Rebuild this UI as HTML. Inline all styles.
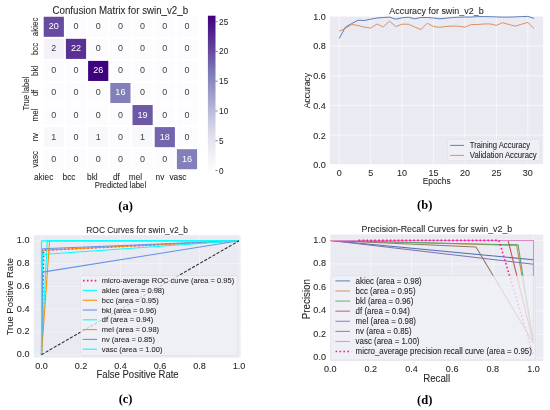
<!DOCTYPE html>
<html><head><meta charset="utf-8"><style>
html,body{margin:0;padding:0;background:#fff;width:550px;height:410px;overflow:hidden}
svg{display:block;will-change:transform}
text{font-family:"Liberation Sans", sans-serif;fill:#262626}
</style></head><body>
<svg width="550" height="410" viewBox="0 0 550 410">
<rect width="550" height="410" fill="#fff"/>
<rect x="43.70" y="16.75" width="20.20" height="20.07" fill="#674ba0"/>
<text x="53.80" y="29.25" font-size="9.33" text-anchor="middle" textLength="10.10" lengthAdjust="spacingAndGlyphs" style="fill:#ffffff">20</text>
<rect x="65.90" y="16.75" width="20.20" height="20.07" fill="#fcfbfd"/>
<text x="76.00" y="29.25" font-size="9.33" text-anchor="middle" textLength="5.00" lengthAdjust="spacingAndGlyphs" style="fill:#424242">0</text>
<rect x="88.10" y="16.75" width="20.20" height="20.07" fill="#fcfbfd"/>
<text x="98.20" y="29.25" font-size="9.33" text-anchor="middle" textLength="5.00" lengthAdjust="spacingAndGlyphs" style="fill:#424242">0</text>
<rect x="110.30" y="16.75" width="20.20" height="20.07" fill="#fcfbfd"/>
<text x="120.40" y="29.25" font-size="9.33" text-anchor="middle" textLength="5.00" lengthAdjust="spacingAndGlyphs" style="fill:#424242">0</text>
<rect x="132.50" y="16.75" width="20.20" height="20.07" fill="#fcfbfd"/>
<text x="142.60" y="29.25" font-size="9.33" text-anchor="middle" textLength="5.00" lengthAdjust="spacingAndGlyphs" style="fill:#424242">0</text>
<rect x="154.70" y="16.75" width="20.20" height="20.07" fill="#fcfbfd"/>
<text x="164.80" y="29.25" font-size="9.33" text-anchor="middle" textLength="5.00" lengthAdjust="spacingAndGlyphs" style="fill:#424242">0</text>
<rect x="176.90" y="16.75" width="20.20" height="20.07" fill="#fcfbfd"/>
<text x="187.00" y="29.25" font-size="9.33" text-anchor="middle" textLength="5.00" lengthAdjust="spacingAndGlyphs" style="fill:#424242">0</text>
<rect x="43.70" y="38.82" width="20.20" height="20.07" fill="#f4f2f8"/>
<text x="53.80" y="51.32" font-size="9.33" text-anchor="middle" textLength="5.00" lengthAdjust="spacingAndGlyphs" style="fill:#424242">2</text>
<rect x="65.90" y="38.82" width="20.20" height="20.07" fill="#593194"/>
<text x="76.00" y="51.32" font-size="9.33" text-anchor="middle" textLength="10.10" lengthAdjust="spacingAndGlyphs" style="fill:#ffffff">22</text>
<rect x="88.10" y="38.82" width="20.20" height="20.07" fill="#fcfbfd"/>
<text x="98.20" y="51.32" font-size="9.33" text-anchor="middle" textLength="5.00" lengthAdjust="spacingAndGlyphs" style="fill:#424242">0</text>
<rect x="110.30" y="38.82" width="20.20" height="20.07" fill="#fcfbfd"/>
<text x="120.40" y="51.32" font-size="9.33" text-anchor="middle" textLength="5.00" lengthAdjust="spacingAndGlyphs" style="fill:#424242">0</text>
<rect x="132.50" y="38.82" width="20.20" height="20.07" fill="#fcfbfd"/>
<text x="142.60" y="51.32" font-size="9.33" text-anchor="middle" textLength="5.00" lengthAdjust="spacingAndGlyphs" style="fill:#424242">0</text>
<rect x="154.70" y="38.82" width="20.20" height="20.07" fill="#fcfbfd"/>
<text x="164.80" y="51.32" font-size="9.33" text-anchor="middle" textLength="5.00" lengthAdjust="spacingAndGlyphs" style="fill:#424242">0</text>
<rect x="176.90" y="38.82" width="20.20" height="20.07" fill="#fcfbfd"/>
<text x="187.00" y="51.32" font-size="9.33" text-anchor="middle" textLength="5.00" lengthAdjust="spacingAndGlyphs" style="fill:#424242">0</text>
<rect x="43.70" y="60.89" width="20.20" height="20.07" fill="#fcfbfd"/>
<text x="53.80" y="73.39" font-size="9.33" text-anchor="middle" textLength="5.00" lengthAdjust="spacingAndGlyphs" style="fill:#424242">0</text>
<rect x="65.90" y="60.89" width="20.20" height="20.07" fill="#fcfbfd"/>
<text x="76.00" y="73.39" font-size="9.33" text-anchor="middle" textLength="5.00" lengthAdjust="spacingAndGlyphs" style="fill:#424242">0</text>
<rect x="88.10" y="60.89" width="20.20" height="20.07" fill="#3f007d"/>
<text x="98.20" y="73.39" font-size="9.33" text-anchor="middle" textLength="10.10" lengthAdjust="spacingAndGlyphs" style="fill:#ffffff">26</text>
<rect x="110.30" y="60.89" width="20.20" height="20.07" fill="#fcfbfd"/>
<text x="120.40" y="73.39" font-size="9.33" text-anchor="middle" textLength="5.00" lengthAdjust="spacingAndGlyphs" style="fill:#424242">0</text>
<rect x="132.50" y="60.89" width="20.20" height="20.07" fill="#fcfbfd"/>
<text x="142.60" y="73.39" font-size="9.33" text-anchor="middle" textLength="5.00" lengthAdjust="spacingAndGlyphs" style="fill:#424242">0</text>
<rect x="154.70" y="60.89" width="20.20" height="20.07" fill="#fcfbfd"/>
<text x="164.80" y="73.39" font-size="9.33" text-anchor="middle" textLength="5.00" lengthAdjust="spacingAndGlyphs" style="fill:#424242">0</text>
<rect x="176.90" y="60.89" width="20.20" height="20.07" fill="#fcfbfd"/>
<text x="187.00" y="73.39" font-size="9.33" text-anchor="middle" textLength="5.00" lengthAdjust="spacingAndGlyphs" style="fill:#424242">0</text>
<rect x="43.70" y="82.96" width="20.20" height="20.07" fill="#fcfbfd"/>
<text x="53.80" y="95.46" font-size="9.33" text-anchor="middle" textLength="5.00" lengthAdjust="spacingAndGlyphs" style="fill:#424242">0</text>
<rect x="65.90" y="82.96" width="20.20" height="20.07" fill="#fcfbfd"/>
<text x="76.00" y="95.46" font-size="9.33" text-anchor="middle" textLength="5.00" lengthAdjust="spacingAndGlyphs" style="fill:#424242">0</text>
<rect x="88.10" y="82.96" width="20.20" height="20.07" fill="#fcfbfd"/>
<text x="98.20" y="95.46" font-size="9.33" text-anchor="middle" textLength="5.00" lengthAdjust="spacingAndGlyphs" style="fill:#424242">0</text>
<rect x="110.30" y="82.96" width="20.20" height="20.07" fill="#827fbb"/>
<text x="120.40" y="95.46" font-size="9.33" text-anchor="middle" textLength="10.10" lengthAdjust="spacingAndGlyphs" style="fill:#ffffff">16</text>
<rect x="132.50" y="82.96" width="20.20" height="20.07" fill="#fcfbfd"/>
<text x="142.60" y="95.46" font-size="9.33" text-anchor="middle" textLength="5.00" lengthAdjust="spacingAndGlyphs" style="fill:#424242">0</text>
<rect x="154.70" y="82.96" width="20.20" height="20.07" fill="#fcfbfd"/>
<text x="164.80" y="95.46" font-size="9.33" text-anchor="middle" textLength="5.00" lengthAdjust="spacingAndGlyphs" style="fill:#424242">0</text>
<rect x="176.90" y="82.96" width="20.20" height="20.07" fill="#fcfbfd"/>
<text x="187.00" y="95.46" font-size="9.33" text-anchor="middle" textLength="5.00" lengthAdjust="spacingAndGlyphs" style="fill:#424242">0</text>
<rect x="43.70" y="105.03" width="20.20" height="20.07" fill="#fcfbfd"/>
<text x="53.80" y="117.53" font-size="9.33" text-anchor="middle" textLength="5.00" lengthAdjust="spacingAndGlyphs" style="fill:#424242">0</text>
<rect x="65.90" y="105.03" width="20.20" height="20.07" fill="#fcfbfd"/>
<text x="76.00" y="117.53" font-size="9.33" text-anchor="middle" textLength="5.00" lengthAdjust="spacingAndGlyphs" style="fill:#424242">0</text>
<rect x="88.10" y="105.03" width="20.20" height="20.07" fill="#fcfbfd"/>
<text x="98.20" y="117.53" font-size="9.33" text-anchor="middle" textLength="5.00" lengthAdjust="spacingAndGlyphs" style="fill:#424242">0</text>
<rect x="110.30" y="105.03" width="20.20" height="20.07" fill="#fcfbfd"/>
<text x="120.40" y="117.53" font-size="9.33" text-anchor="middle" textLength="5.00" lengthAdjust="spacingAndGlyphs" style="fill:#424242">0</text>
<rect x="132.50" y="105.03" width="20.20" height="20.07" fill="#6d58a7"/>
<text x="142.60" y="117.53" font-size="9.33" text-anchor="middle" textLength="10.10" lengthAdjust="spacingAndGlyphs" style="fill:#ffffff">19</text>
<rect x="154.70" y="105.03" width="20.20" height="20.07" fill="#fcfbfd"/>
<text x="164.80" y="117.53" font-size="9.33" text-anchor="middle" textLength="5.00" lengthAdjust="spacingAndGlyphs" style="fill:#424242">0</text>
<rect x="176.90" y="105.03" width="20.20" height="20.07" fill="#fcfbfd"/>
<text x="187.00" y="117.53" font-size="9.33" text-anchor="middle" textLength="5.00" lengthAdjust="spacingAndGlyphs" style="fill:#424242">0</text>
<rect x="43.70" y="127.10" width="20.20" height="20.07" fill="#f8f7fb"/>
<text x="53.80" y="139.60" font-size="9.33" text-anchor="middle" textLength="5.00" lengthAdjust="spacingAndGlyphs" style="fill:#424242">1</text>
<rect x="65.90" y="127.10" width="20.20" height="20.07" fill="#fcfbfd"/>
<text x="76.00" y="139.60" font-size="9.33" text-anchor="middle" textLength="5.00" lengthAdjust="spacingAndGlyphs" style="fill:#424242">0</text>
<rect x="88.10" y="127.10" width="20.20" height="20.07" fill="#f8f7fb"/>
<text x="98.20" y="139.60" font-size="9.33" text-anchor="middle" textLength="5.00" lengthAdjust="spacingAndGlyphs" style="fill:#424242">1</text>
<rect x="110.30" y="127.10" width="20.20" height="20.07" fill="#fcfbfd"/>
<text x="120.40" y="139.60" font-size="9.33" text-anchor="middle" textLength="5.00" lengthAdjust="spacingAndGlyphs" style="fill:#424242">0</text>
<rect x="132.50" y="127.10" width="20.20" height="20.07" fill="#f8f7fb"/>
<text x="142.60" y="139.60" font-size="9.33" text-anchor="middle" textLength="5.00" lengthAdjust="spacingAndGlyphs" style="fill:#424242">1</text>
<rect x="154.70" y="127.10" width="20.20" height="20.07" fill="#7465ae"/>
<text x="164.80" y="139.60" font-size="9.33" text-anchor="middle" textLength="10.10" lengthAdjust="spacingAndGlyphs" style="fill:#ffffff">18</text>
<rect x="176.90" y="127.10" width="20.20" height="20.07" fill="#fcfbfd"/>
<text x="187.00" y="139.60" font-size="9.33" text-anchor="middle" textLength="5.00" lengthAdjust="spacingAndGlyphs" style="fill:#424242">0</text>
<rect x="43.70" y="149.17" width="20.20" height="20.07" fill="#fcfbfd"/>
<text x="53.80" y="161.67" font-size="9.33" text-anchor="middle" textLength="5.00" lengthAdjust="spacingAndGlyphs" style="fill:#424242">0</text>
<rect x="65.90" y="149.17" width="20.20" height="20.07" fill="#fcfbfd"/>
<text x="76.00" y="161.67" font-size="9.33" text-anchor="middle" textLength="5.00" lengthAdjust="spacingAndGlyphs" style="fill:#424242">0</text>
<rect x="88.10" y="149.17" width="20.20" height="20.07" fill="#fcfbfd"/>
<text x="98.20" y="161.67" font-size="9.33" text-anchor="middle" textLength="5.00" lengthAdjust="spacingAndGlyphs" style="fill:#424242">0</text>
<rect x="110.30" y="149.17" width="20.20" height="20.07" fill="#fcfbfd"/>
<text x="120.40" y="161.67" font-size="9.33" text-anchor="middle" textLength="5.00" lengthAdjust="spacingAndGlyphs" style="fill:#424242">0</text>
<rect x="132.50" y="149.17" width="20.20" height="20.07" fill="#fcfbfd"/>
<text x="142.60" y="161.67" font-size="9.33" text-anchor="middle" textLength="5.00" lengthAdjust="spacingAndGlyphs" style="fill:#424242">0</text>
<rect x="154.70" y="149.17" width="20.20" height="20.07" fill="#fcfbfd"/>
<text x="164.80" y="161.67" font-size="9.33" text-anchor="middle" textLength="5.00" lengthAdjust="spacingAndGlyphs" style="fill:#424242">0</text>
<rect x="176.90" y="149.17" width="20.20" height="20.07" fill="#827fbb"/>
<text x="187.00" y="161.67" font-size="9.33" text-anchor="middle" textLength="10.10" lengthAdjust="spacingAndGlyphs" style="fill:#ffffff">16</text>
<text x="53.30" y="179.80" font-size="8.80" text-anchor="end" textLength="19.38" lengthAdjust="spacingAndGlyphs" style="stroke:#262626;stroke-width:0.07px">akiec</text>
<text x="75.50" y="179.80" font-size="8.80" text-anchor="end" textLength="12.92" lengthAdjust="spacingAndGlyphs" style="stroke:#262626;stroke-width:0.07px">bcc</text>
<text x="97.70" y="179.80" font-size="8.80" text-anchor="end" textLength="10.61" lengthAdjust="spacingAndGlyphs" style="stroke:#262626;stroke-width:0.07px">bkl</text>
<text x="119.90" y="179.80" font-size="8.80" text-anchor="end" textLength="6.92" lengthAdjust="spacingAndGlyphs" style="stroke:#262626;stroke-width:0.07px">df</text>
<text x="142.10" y="179.80" font-size="8.80" text-anchor="end" textLength="13.37" lengthAdjust="spacingAndGlyphs" style="stroke:#262626;stroke-width:0.07px">mel</text>
<text x="164.30" y="179.80" font-size="8.80" text-anchor="end" textLength="8.77" lengthAdjust="spacingAndGlyphs" style="stroke:#262626;stroke-width:0.07px">nv</text>
<text x="186.50" y="179.80" font-size="8.80" text-anchor="end" textLength="17.07" lengthAdjust="spacingAndGlyphs" style="stroke:#262626;stroke-width:0.07px">vasc</text>
<text x="37.90" y="26.79" font-size="8.48" text-anchor="middle" textLength="18.68" lengthAdjust="spacingAndGlyphs" transform="rotate(-90 37.90 26.79)" style="stroke:#262626;stroke-width:0.07px">akiec</text>
<text x="37.90" y="48.86" font-size="8.48" text-anchor="middle" textLength="12.45" lengthAdjust="spacingAndGlyphs" transform="rotate(-90 37.90 48.86)" style="stroke:#262626;stroke-width:0.07px">bcc</text>
<text x="37.90" y="70.92" font-size="8.48" text-anchor="middle" textLength="10.23" lengthAdjust="spacingAndGlyphs" transform="rotate(-90 37.90 70.92)" style="stroke:#262626;stroke-width:0.07px">bkl</text>
<text x="37.90" y="93.00" font-size="8.48" text-anchor="middle" textLength="6.67" lengthAdjust="spacingAndGlyphs" transform="rotate(-90 37.90 93.00)" style="stroke:#262626;stroke-width:0.07px">df</text>
<text x="37.90" y="115.06" font-size="8.48" text-anchor="middle" textLength="12.89" lengthAdjust="spacingAndGlyphs" transform="rotate(-90 37.90 115.06)" style="stroke:#262626;stroke-width:0.07px">mel</text>
<text x="37.90" y="137.13" font-size="8.48" text-anchor="middle" textLength="8.45" lengthAdjust="spacingAndGlyphs" transform="rotate(-90 37.90 137.13)" style="stroke:#262626;stroke-width:0.07px">nv</text>
<text x="37.90" y="159.21" font-size="8.48" text-anchor="middle" textLength="16.45" lengthAdjust="spacingAndGlyphs" transform="rotate(-90 37.90 159.21)" style="stroke:#262626;stroke-width:0.07px">vasc</text>
<text x="120.50" y="188.00" font-size="8.27" text-anchor="middle" textLength="51.30" lengthAdjust="spacingAndGlyphs" style="stroke:#262626;stroke-width:0.07px">Predicted label</text>
<text x="28.60" y="93.60" font-size="8.16" text-anchor="middle" textLength="33.70" lengthAdjust="spacingAndGlyphs" transform="rotate(-90 28.60 93.60)" style="stroke:#262626;stroke-width:0.07px">True label</text>
<text x="120.30" y="14.20" font-size="10.28" text-anchor="middle" textLength="135.50" lengthAdjust="spacingAndGlyphs" style="stroke:#262626;stroke-width:0.07px">Confusion Matrix for swin_v2_b</text>
<defs><linearGradient id="cbar" x1="0" y1="1" x2="0" y2="0"><stop offset="0.000" stop-color="#fcfbfd"/><stop offset="0.125" stop-color="#efedf5"/><stop offset="0.250" stop-color="#dadaeb"/><stop offset="0.375" stop-color="#bcbddc"/><stop offset="0.500" stop-color="#9e9ac8"/><stop offset="0.625" stop-color="#807dba"/><stop offset="0.750" stop-color="#6a51a3"/><stop offset="0.875" stop-color="#54278f"/><stop offset="1.000" stop-color="#3f007d"/></linearGradient></defs>
<rect x="207.9" y="15.7" width="7.6" height="154.80" fill="url(#cbar)"/>
<line x1="215.5" y1="170.50" x2="217.6" y2="170.50" stroke="#262626" stroke-width="0.6"/>
<text x="219.10" y="173.50" font-size="8.69" textLength="4.56" lengthAdjust="spacingAndGlyphs" style="stroke:#262626;stroke-width:0.07px">0</text>
<line x1="215.5" y1="140.73" x2="217.6" y2="140.73" stroke="#262626" stroke-width="0.6"/>
<text x="219.10" y="143.73" font-size="8.69" textLength="4.56" lengthAdjust="spacingAndGlyphs" style="stroke:#262626;stroke-width:0.07px">5</text>
<line x1="215.5" y1="110.96" x2="217.6" y2="110.96" stroke="#262626" stroke-width="0.6"/>
<text x="219.10" y="113.96" font-size="8.69" textLength="9.12" lengthAdjust="spacingAndGlyphs" style="stroke:#262626;stroke-width:0.07px">10</text>
<line x1="215.5" y1="81.19" x2="217.6" y2="81.19" stroke="#262626" stroke-width="0.6"/>
<text x="219.10" y="84.19" font-size="8.69" textLength="9.12" lengthAdjust="spacingAndGlyphs" style="stroke:#262626;stroke-width:0.07px">15</text>
<line x1="215.5" y1="51.42" x2="217.6" y2="51.42" stroke="#262626" stroke-width="0.6"/>
<text x="219.10" y="54.42" font-size="8.69" textLength="9.12" lengthAdjust="spacingAndGlyphs" style="stroke:#262626;stroke-width:0.07px">20</text>
<line x1="215.5" y1="21.65" x2="217.6" y2="21.65" stroke="#262626" stroke-width="0.6"/>
<text x="219.10" y="24.65" font-size="8.69" textLength="9.12" lengthAdjust="spacingAndGlyphs" style="stroke:#262626;stroke-width:0.07px">25</text>
<rect x="330.0" y="16.1" width="213.20" height="148.20" fill="#eaeaf2"/>
<line x1="339.20" y1="16.1" x2="339.20" y2="164.3" stroke="#fff" stroke-width="0.8" stroke-opacity="0.75"/>
<line x1="370.63" y1="16.1" x2="370.63" y2="164.3" stroke="#fff" stroke-width="0.8" stroke-opacity="0.75"/>
<line x1="402.07" y1="16.1" x2="402.07" y2="164.3" stroke="#fff" stroke-width="0.8" stroke-opacity="0.75"/>
<line x1="433.50" y1="16.1" x2="433.50" y2="164.3" stroke="#fff" stroke-width="0.8" stroke-opacity="0.75"/>
<line x1="464.94" y1="16.1" x2="464.94" y2="164.3" stroke="#fff" stroke-width="0.8" stroke-opacity="0.75"/>
<line x1="496.38" y1="16.1" x2="496.38" y2="164.3" stroke="#fff" stroke-width="0.8" stroke-opacity="0.75"/>
<line x1="527.81" y1="16.1" x2="527.81" y2="164.3" stroke="#fff" stroke-width="0.8" stroke-opacity="0.75"/>
<line x1="330.0" y1="164.80" x2="543.2" y2="164.80" stroke="#fff" stroke-width="0.8" stroke-opacity="0.75"/>
<line x1="330.0" y1="135.12" x2="543.2" y2="135.12" stroke="#fff" stroke-width="0.8" stroke-opacity="0.75"/>
<line x1="330.0" y1="105.44" x2="543.2" y2="105.44" stroke="#fff" stroke-width="0.8" stroke-opacity="0.75"/>
<line x1="330.0" y1="75.76" x2="543.2" y2="75.76" stroke="#fff" stroke-width="0.8" stroke-opacity="0.75"/>
<line x1="330.0" y1="46.08" x2="543.2" y2="46.08" stroke="#fff" stroke-width="0.8" stroke-opacity="0.75"/>
<line x1="330.0" y1="16.40" x2="543.2" y2="16.40" stroke="#fff" stroke-width="0.8" stroke-opacity="0.75"/>
<polyline points="339.20,38.50 345.49,27.00 351.77,23.50 358.06,20.20 364.35,20.50 370.63,19.20 376.92,18.00 383.21,17.50 389.50,17.10 395.78,19.20 402.07,17.80 408.36,17.20 414.64,18.80 420.93,17.50 427.22,17.50 433.50,18.00 439.79,18.80 446.08,18.20 452.37,17.50 458.65,17.20 464.94,17.00 471.23,17.00 477.51,16.60 483.80,16.60 490.09,16.70 496.38,16.90 502.66,17.10 508.95,17.10 515.24,16.90 521.52,16.60 527.81,16.40 534.10,18.30" fill="none" stroke="#4c72b0" stroke-width="0.9" stroke-linejoin="round"/>
<polyline points="339.20,31.00 345.49,28.50 351.77,24.50 358.06,25.50 364.35,27.20 370.63,28.00 376.92,24.00 383.21,27.00 389.50,21.10 395.78,26.50 402.07,24.20 408.36,24.20 414.64,27.00 420.93,29.50 427.22,23.20 433.50,26.50 439.79,27.30 446.08,26.50 452.37,26.00 458.65,26.20 464.94,27.20 471.23,24.50 477.51,24.50 483.80,24.00 490.09,23.90 496.38,25.30 502.66,22.70 508.95,24.50 515.24,26.20 521.52,24.20 527.81,22.40 534.10,28.60" fill="none" stroke="#dd8452" stroke-width="0.9" stroke-linejoin="round"/>
<text x="325.90" y="168.20" font-size="9.65" text-anchor="end" textLength="12.65" lengthAdjust="spacingAndGlyphs" style="stroke:#262626;stroke-width:0.07px">0.0</text>
<text x="325.90" y="138.52" font-size="9.65" text-anchor="end" textLength="12.65" lengthAdjust="spacingAndGlyphs" style="stroke:#262626;stroke-width:0.07px">0.2</text>
<text x="325.90" y="108.84" font-size="9.65" text-anchor="end" textLength="12.65" lengthAdjust="spacingAndGlyphs" style="stroke:#262626;stroke-width:0.07px">0.4</text>
<text x="325.90" y="79.16" font-size="9.65" text-anchor="end" textLength="12.65" lengthAdjust="spacingAndGlyphs" style="stroke:#262626;stroke-width:0.07px">0.6</text>
<text x="325.90" y="49.48" font-size="9.65" text-anchor="end" textLength="12.65" lengthAdjust="spacingAndGlyphs" style="stroke:#262626;stroke-width:0.07px">0.8</text>
<text x="325.90" y="19.80" font-size="9.65" text-anchor="end" textLength="12.65" lengthAdjust="spacingAndGlyphs" style="stroke:#262626;stroke-width:0.07px">1.0</text>
<text x="339.20" y="175.60" font-size="9.54" text-anchor="middle" textLength="5.01" lengthAdjust="spacingAndGlyphs" style="stroke:#262626;stroke-width:0.07px">0</text>
<text x="370.63" y="175.60" font-size="9.54" text-anchor="middle" textLength="5.01" lengthAdjust="spacingAndGlyphs" style="stroke:#262626;stroke-width:0.07px">5</text>
<text x="402.07" y="175.60" font-size="9.54" text-anchor="middle" textLength="10.01" lengthAdjust="spacingAndGlyphs" style="stroke:#262626;stroke-width:0.07px">10</text>
<text x="433.50" y="175.60" font-size="9.54" text-anchor="middle" textLength="10.01" lengthAdjust="spacingAndGlyphs" style="stroke:#262626;stroke-width:0.07px">15</text>
<text x="464.94" y="175.60" font-size="9.54" text-anchor="middle" textLength="10.01" lengthAdjust="spacingAndGlyphs" style="stroke:#262626;stroke-width:0.07px">20</text>
<text x="496.38" y="175.60" font-size="9.54" text-anchor="middle" textLength="10.01" lengthAdjust="spacingAndGlyphs" style="stroke:#262626;stroke-width:0.07px">25</text>
<text x="527.81" y="175.60" font-size="9.54" text-anchor="middle" textLength="10.01" lengthAdjust="spacingAndGlyphs" style="stroke:#262626;stroke-width:0.07px">30</text>
<text x="436.70" y="184.10" font-size="8.90" text-anchor="middle" textLength="28.00" lengthAdjust="spacingAndGlyphs" style="stroke:#262626;stroke-width:0.07px">Epochs</text>
<text x="309.60" y="90.60" font-size="9.12" text-anchor="middle" textLength="35.40" lengthAdjust="spacingAndGlyphs" transform="rotate(-90 309.60 90.60)" style="stroke:#262626;stroke-width:0.07px">Accuracy</text>
<text x="436.45" y="14.10" font-size="9.43" text-anchor="middle" textLength="94.30" lengthAdjust="spacingAndGlyphs" style="stroke:#262626;stroke-width:0.07px">Accuracy for swin_v2_b</text>
<rect x="447.7" y="139.1" width="92.6" height="21.6" rx="1.5" fill="#f0f0f6" fill-opacity="0.8" stroke="#cccccc" stroke-opacity="0.6" stroke-width="0.5"/>
<line x1="450.2" y1="145.4" x2="464" y2="145.4" stroke="#4c72b0" stroke-width="0.9"/>
<line x1="450.2" y1="155.4" x2="464" y2="155.4" stroke="#dd8452" stroke-width="0.9"/>
<text x="469.80" y="147.60" font-size="8.16" textLength="60.30" lengthAdjust="spacingAndGlyphs" style="stroke:#262626;stroke-width:0.07px">Training Accuracy</text>
<text x="469.80" y="157.70" font-size="8.16" textLength="66.90" lengthAdjust="spacingAndGlyphs" style="stroke:#262626;stroke-width:0.07px">Validation Accuracy</text>
<rect x="33.8" y="235.2" width="206.80" height="122.40" fill="#eaeaf2"/>
<line x1="41.50" y1="235.2" x2="41.50" y2="357.6" stroke="#fff" stroke-width="0.8" stroke-opacity="0.45"/>
<line x1="81.00" y1="235.2" x2="81.00" y2="357.6" stroke="#fff" stroke-width="0.8" stroke-opacity="0.45"/>
<line x1="120.50" y1="235.2" x2="120.50" y2="357.6" stroke="#fff" stroke-width="0.8" stroke-opacity="0.45"/>
<line x1="160.00" y1="235.2" x2="160.00" y2="357.6" stroke="#fff" stroke-width="0.8" stroke-opacity="0.45"/>
<line x1="199.50" y1="235.2" x2="199.50" y2="357.6" stroke="#fff" stroke-width="0.8" stroke-opacity="0.45"/>
<line x1="239.00" y1="235.2" x2="239.00" y2="357.6" stroke="#fff" stroke-width="0.8" stroke-opacity="0.45"/>
<line x1="33.8" y1="354.70" x2="240.6" y2="354.70" stroke="#fff" stroke-width="0.8" stroke-opacity="0.45"/>
<line x1="33.8" y1="331.92" x2="240.6" y2="331.92" stroke="#fff" stroke-width="0.8" stroke-opacity="0.45"/>
<line x1="33.8" y1="309.14" x2="240.6" y2="309.14" stroke="#fff" stroke-width="0.8" stroke-opacity="0.45"/>
<line x1="33.8" y1="286.36" x2="240.6" y2="286.36" stroke="#fff" stroke-width="0.8" stroke-opacity="0.45"/>
<line x1="33.8" y1="263.58" x2="240.6" y2="263.58" stroke="#fff" stroke-width="0.8" stroke-opacity="0.45"/>
<line x1="33.8" y1="240.80" x2="240.6" y2="240.80" stroke="#fff" stroke-width="0.8" stroke-opacity="0.45"/>
<polyline points="41.50,354.70 43.67,250.25 239.00,240.80" fill="none" stroke="#ff1493" stroke-width="1.6" stroke-linejoin="round" stroke-dasharray="1.6,2.3"/>
<polyline points="41.50,354.70 47.23,240.80 239.00,240.80" fill="none" stroke="#00ffff" stroke-width="1.15" stroke-linejoin="round"/>
<polyline points="41.50,354.70 42.29,250.25 239.00,240.80" fill="none" stroke="#ff8c00" stroke-width="1.05" stroke-linejoin="round"/>
<polyline points="41.50,354.70 42.69,248.77 239.00,240.80" fill="none" stroke="#6495ed" stroke-width="1.05" stroke-linejoin="round"/>
<polyline points="41.50,354.70 42.29,254.47 239.00,240.80" fill="none" stroke="#00ffff" stroke-width="1.15" stroke-linejoin="round"/>
<polyline points="41.50,354.70 49.60,240.80" fill="none" stroke="#ff8c00" stroke-width="1.05" stroke-linejoin="round"/>
<polyline points="41.50,354.70 42.69,272.12 239.00,240.80" fill="none" stroke="#6495ed" stroke-width="1.05" stroke-linejoin="round"/>
<polyline points="41.50,354.70 41.50,240.80 239.00,240.80" fill="none" stroke="#00ffff" stroke-width="1.15" stroke-linejoin="round"/>
<polyline points="41.50,354.70 239.00,240.80" fill="none" stroke="#2a2a2a" stroke-width="1.05" stroke-linejoin="round" stroke-dasharray="3.2,1.5"/>
<text x="29.50" y="357.20" font-size="9.65" text-anchor="end" textLength="12.65" lengthAdjust="spacingAndGlyphs" style="stroke:#262626;stroke-width:0.07px">0.0</text>
<text x="41.50" y="368.80" font-size="9.65" text-anchor="middle" textLength="12.65" lengthAdjust="spacingAndGlyphs" style="stroke:#262626;stroke-width:0.07px">0.0</text>
<text x="29.50" y="334.42" font-size="9.65" text-anchor="end" textLength="12.65" lengthAdjust="spacingAndGlyphs" style="stroke:#262626;stroke-width:0.07px">0.2</text>
<text x="81.00" y="368.80" font-size="9.65" text-anchor="middle" textLength="12.65" lengthAdjust="spacingAndGlyphs" style="stroke:#262626;stroke-width:0.07px">0.2</text>
<text x="29.50" y="311.64" font-size="9.65" text-anchor="end" textLength="12.65" lengthAdjust="spacingAndGlyphs" style="stroke:#262626;stroke-width:0.07px">0.4</text>
<text x="120.50" y="368.80" font-size="9.65" text-anchor="middle" textLength="12.65" lengthAdjust="spacingAndGlyphs" style="stroke:#262626;stroke-width:0.07px">0.4</text>
<text x="29.50" y="288.86" font-size="9.65" text-anchor="end" textLength="12.65" lengthAdjust="spacingAndGlyphs" style="stroke:#262626;stroke-width:0.07px">0.6</text>
<text x="160.00" y="368.80" font-size="9.65" text-anchor="middle" textLength="12.65" lengthAdjust="spacingAndGlyphs" style="stroke:#262626;stroke-width:0.07px">0.6</text>
<text x="29.50" y="266.08" font-size="9.65" text-anchor="end" textLength="12.65" lengthAdjust="spacingAndGlyphs" style="stroke:#262626;stroke-width:0.07px">0.8</text>
<text x="199.50" y="368.80" font-size="9.65" text-anchor="middle" textLength="12.65" lengthAdjust="spacingAndGlyphs" style="stroke:#262626;stroke-width:0.07px">0.8</text>
<text x="29.50" y="243.30" font-size="9.65" text-anchor="end" textLength="12.65" lengthAdjust="spacingAndGlyphs" style="stroke:#262626;stroke-width:0.07px">1.0</text>
<text x="239.00" y="368.80" font-size="9.65" text-anchor="middle" textLength="12.65" lengthAdjust="spacingAndGlyphs" style="stroke:#262626;stroke-width:0.07px">1.0</text>
<text x="137.60" y="378.30" font-size="10.07" text-anchor="middle" textLength="82.10" lengthAdjust="spacingAndGlyphs" style="stroke:#262626;stroke-width:0.07px">False Positive Rate</text>
<text x="13.50" y="296.70" font-size="9.96" text-anchor="middle" textLength="77.30" lengthAdjust="spacingAndGlyphs" transform="rotate(-90 13.50 296.70)" style="stroke:#262626;stroke-width:0.07px">True Positive Rate</text>
<text x="137.10" y="233.10" font-size="8.90" text-anchor="middle" textLength="101.60" lengthAdjust="spacingAndGlyphs" style="stroke:#262626;stroke-width:0.07px">ROC Curves for swin_v2_b</text>
<rect x="80.5" y="275.5" width="157.3" height="80.0" rx="1.5" fill="#f0f0f6" fill-opacity="0.8" stroke="#cccccc" stroke-opacity="0.6" stroke-width="0.5"/>
<line x1="83.0" y1="280.60" x2="97" y2="280.60" stroke="#ff1493" stroke-width="1.6" stroke-dasharray="1.6,2.3"/>
<text x="101.80" y="283.20" font-size="7.95" textLength="132.34" lengthAdjust="spacingAndGlyphs" style="stroke:#262626;stroke-width:0.07px">micro-average ROC curve (area = 0.95)</text>
<line x1="82.7" y1="290.40" x2="97" y2="290.40" stroke="#00ffff" stroke-width="1.1"/>
<text x="101.80" y="293.00" font-size="7.95" textLength="62.74" lengthAdjust="spacingAndGlyphs" style="stroke:#262626;stroke-width:0.07px">akiec (area = 0.98)</text>
<line x1="82.7" y1="300.20" x2="97" y2="300.20" stroke="#ff8c00" stroke-width="1.1"/>
<text x="101.80" y="302.80" font-size="7.95" textLength="56.91" lengthAdjust="spacingAndGlyphs" style="stroke:#262626;stroke-width:0.07px">bcc (area = 0.95)</text>
<line x1="82.7" y1="310.00" x2="97" y2="310.00" stroke="#6495ed" stroke-width="1.1"/>
<text x="101.80" y="312.60" font-size="7.95" textLength="54.82" lengthAdjust="spacingAndGlyphs" style="stroke:#262626;stroke-width:0.07px">bkl (area = 0.96)</text>
<line x1="82.7" y1="319.80" x2="97" y2="319.80" stroke="#00ffff" stroke-width="1.1"/>
<text x="101.80" y="322.40" font-size="7.95" textLength="51.49" lengthAdjust="spacingAndGlyphs" style="stroke:#262626;stroke-width:0.07px">df (area = 0.94)</text>
<line x1="82.7" y1="329.60" x2="97" y2="329.60" stroke="#ff8c00" stroke-width="1.1"/>
<text x="101.80" y="332.20" font-size="7.95" textLength="57.32" lengthAdjust="spacingAndGlyphs" style="stroke:#262626;stroke-width:0.07px">mel (area = 0.98)</text>
<line x1="82.7" y1="339.40" x2="97" y2="339.40" stroke="#6495ed" stroke-width="1.1"/>
<text x="101.80" y="342.00" font-size="7.95" textLength="53.16" lengthAdjust="spacingAndGlyphs" style="stroke:#262626;stroke-width:0.07px">nv (area = 0.85)</text>
<line x1="82.7" y1="349.20" x2="97" y2="349.20" stroke="#00ffff" stroke-width="1.1"/>
<text x="101.80" y="351.80" font-size="7.95" textLength="60.66" lengthAdjust="spacingAndGlyphs" style="stroke:#262626;stroke-width:0.07px">vasc (area = 1.00)</text>
<rect x="330.2" y="234.5" width="213.20" height="126.50" fill="#eaeaf2"/>
<line x1="330.20" y1="234.5" x2="330.20" y2="361.0" stroke="#fff" stroke-width="0.8" stroke-opacity="0.6"/>
<line x1="370.86" y1="234.5" x2="370.86" y2="361.0" stroke="#fff" stroke-width="0.8" stroke-opacity="0.6"/>
<line x1="411.52" y1="234.5" x2="411.52" y2="361.0" stroke="#fff" stroke-width="0.8" stroke-opacity="0.6"/>
<line x1="452.18" y1="234.5" x2="452.18" y2="361.0" stroke="#fff" stroke-width="0.8" stroke-opacity="0.6"/>
<line x1="492.84" y1="234.5" x2="492.84" y2="361.0" stroke="#fff" stroke-width="0.8" stroke-opacity="0.6"/>
<line x1="533.50" y1="234.5" x2="533.50" y2="361.0" stroke="#fff" stroke-width="0.8" stroke-opacity="0.6"/>
<line x1="330.2" y1="357.90" x2="543.4" y2="357.90" stroke="#fff" stroke-width="0.8" stroke-opacity="0.6"/>
<line x1="330.2" y1="334.40" x2="543.4" y2="334.40" stroke="#fff" stroke-width="0.8" stroke-opacity="0.6"/>
<line x1="330.2" y1="310.90" x2="543.4" y2="310.90" stroke="#fff" stroke-width="0.8" stroke-opacity="0.6"/>
<line x1="330.2" y1="287.40" x2="543.4" y2="287.40" stroke="#fff" stroke-width="0.8" stroke-opacity="0.6"/>
<line x1="330.2" y1="263.90" x2="543.4" y2="263.90" stroke="#fff" stroke-width="0.8" stroke-opacity="0.6"/>
<line x1="330.2" y1="240.40" x2="543.4" y2="240.40" stroke="#fff" stroke-width="0.8" stroke-opacity="0.6"/>
<polyline points="330.20,240.40 533.50,259.79 533.50,343.09" fill="none" stroke="#4c72b0" stroke-width="1.05" stroke-linejoin="round"/>
<polyline points="330.20,240.40 516.63,245.33 533.50,343.09" fill="none" stroke="#dd8452" stroke-width="1.05" stroke-linejoin="round"/>
<polyline points="330.20,240.40 518.05,244.86 533.50,343.09" fill="none" stroke="#55a868" stroke-width="1.05" stroke-linejoin="round"/>
<polyline points="330.20,240.40 508.09,240.40 533.50,343.09" fill="none" stroke="#c44e52" stroke-width="1.05" stroke-linejoin="round"/>
<polyline points="330.20,240.40 533.50,264.25 533.50,343.09" fill="none" stroke="#8172b3" stroke-width="1.05" stroke-linejoin="round"/>
<polyline points="330.20,240.40 475.97,246.98 533.50,343.09" fill="none" stroke="#937860" stroke-width="1.05" stroke-linejoin="round"/>
<polyline points="330.20,240.40 533.50,240.40 533.50,343.09" fill="none" stroke="#da8bc3" stroke-width="1.05" stroke-linejoin="round"/>
<polyline points="358.66,240.40 498.94,240.40 533.50,355.55" fill="none" stroke="#ff1493" stroke-width="1.6" stroke-linejoin="round" stroke-dasharray="1.6,2.3"/>
<text x="326.00" y="360.40" font-size="9.65" text-anchor="end" textLength="12.65" lengthAdjust="spacingAndGlyphs" style="stroke:#262626;stroke-width:0.07px">0.0</text>
<text x="330.20" y="372.00" font-size="9.65" text-anchor="middle" textLength="12.65" lengthAdjust="spacingAndGlyphs" style="stroke:#262626;stroke-width:0.07px">0.0</text>
<text x="326.00" y="336.90" font-size="9.65" text-anchor="end" textLength="12.65" lengthAdjust="spacingAndGlyphs" style="stroke:#262626;stroke-width:0.07px">0.2</text>
<text x="370.86" y="372.00" font-size="9.65" text-anchor="middle" textLength="12.65" lengthAdjust="spacingAndGlyphs" style="stroke:#262626;stroke-width:0.07px">0.2</text>
<text x="326.00" y="313.40" font-size="9.65" text-anchor="end" textLength="12.65" lengthAdjust="spacingAndGlyphs" style="stroke:#262626;stroke-width:0.07px">0.4</text>
<text x="411.52" y="372.00" font-size="9.65" text-anchor="middle" textLength="12.65" lengthAdjust="spacingAndGlyphs" style="stroke:#262626;stroke-width:0.07px">0.4</text>
<text x="326.00" y="289.90" font-size="9.65" text-anchor="end" textLength="12.65" lengthAdjust="spacingAndGlyphs" style="stroke:#262626;stroke-width:0.07px">0.6</text>
<text x="452.18" y="372.00" font-size="9.65" text-anchor="middle" textLength="12.65" lengthAdjust="spacingAndGlyphs" style="stroke:#262626;stroke-width:0.07px">0.6</text>
<text x="326.00" y="266.40" font-size="9.65" text-anchor="end" textLength="12.65" lengthAdjust="spacingAndGlyphs" style="stroke:#262626;stroke-width:0.07px">0.8</text>
<text x="492.84" y="372.00" font-size="9.65" text-anchor="middle" textLength="12.65" lengthAdjust="spacingAndGlyphs" style="stroke:#262626;stroke-width:0.07px">0.8</text>
<text x="326.00" y="242.90" font-size="9.65" text-anchor="end" textLength="12.65" lengthAdjust="spacingAndGlyphs" style="stroke:#262626;stroke-width:0.07px">1.0</text>
<text x="533.50" y="372.00" font-size="9.65" text-anchor="middle" textLength="12.65" lengthAdjust="spacingAndGlyphs" style="stroke:#262626;stroke-width:0.07px">1.0</text>
<text x="436.70" y="382.10" font-size="10.07" text-anchor="middle" textLength="27.00" lengthAdjust="spacingAndGlyphs" style="stroke:#262626;stroke-width:0.07px">Recall</text>
<text x="310.40" y="299.10" font-size="10.39" text-anchor="middle" textLength="40.20" lengthAdjust="spacingAndGlyphs" transform="rotate(-90 310.40 299.10)" style="stroke:#262626;stroke-width:0.07px">Precision</text>
<text x="436.90" y="232.20" font-size="9.33" text-anchor="middle" textLength="150.60" lengthAdjust="spacingAndGlyphs" style="stroke:#262626;stroke-width:0.07px">Precision-Recall Curves for swin_v2_b</text>
<rect x="330.8" y="275.8" width="204.5" height="84.1" rx="1.5" fill="#f0f0f6" fill-opacity="0.8" stroke="#cccccc" stroke-opacity="0.6" stroke-width="0.5"/>
<line x1="335.4" y1="280.90" x2="350" y2="280.90" stroke="#4c72b0" stroke-width="0.9"/>
<text x="355.60" y="283.60" font-size="8.37" textLength="66.09" lengthAdjust="spacingAndGlyphs" style="stroke:#262626;stroke-width:0.07px">akiec (area = 0.98)</text>
<line x1="335.4" y1="290.99" x2="350" y2="290.99" stroke="#dd8452" stroke-width="0.9"/>
<text x="355.60" y="293.69" font-size="8.37" textLength="59.94" lengthAdjust="spacingAndGlyphs" style="stroke:#262626;stroke-width:0.07px">bcc (area = 0.95)</text>
<line x1="335.4" y1="301.08" x2="350" y2="301.08" stroke="#55a868" stroke-width="0.9"/>
<text x="355.60" y="303.78" font-size="8.37" textLength="57.75" lengthAdjust="spacingAndGlyphs" style="stroke:#262626;stroke-width:0.07px">bkl (area = 0.96)</text>
<line x1="335.4" y1="311.17" x2="350" y2="311.17" stroke="#c44e52" stroke-width="0.9"/>
<text x="355.60" y="313.87" font-size="8.37" textLength="54.24" lengthAdjust="spacingAndGlyphs" style="stroke:#262626;stroke-width:0.07px">df (area = 0.94)</text>
<line x1="335.4" y1="321.26" x2="350" y2="321.26" stroke="#8172b3" stroke-width="0.9"/>
<text x="355.60" y="323.96" font-size="8.37" textLength="60.38" lengthAdjust="spacingAndGlyphs" style="stroke:#262626;stroke-width:0.07px">mel (area = 0.98)</text>
<line x1="335.4" y1="331.35" x2="350" y2="331.35" stroke="#937860" stroke-width="0.9"/>
<text x="355.60" y="334.05" font-size="8.37" textLength="55.99" lengthAdjust="spacingAndGlyphs" style="stroke:#262626;stroke-width:0.07px">nv (area = 0.85)</text>
<line x1="335.4" y1="341.44" x2="350" y2="341.44" stroke="#da8bc3" stroke-width="0.9"/>
<text x="355.60" y="344.14" font-size="8.37" textLength="63.89" lengthAdjust="spacingAndGlyphs" style="stroke:#262626;stroke-width:0.07px">vasc (area = 1.00)</text>
<line x1="335.6" y1="351.53" x2="350" y2="351.53" stroke="#ff1493" stroke-width="1.6" stroke-dasharray="1.6,2.3"/>
<text x="355.60" y="354.23" font-size="8.37" textLength="176.30" lengthAdjust="spacingAndGlyphs" style="stroke:#262626;stroke-width:0.07px">micro_average precision recall curve (area = 0.95)</text>
<text x="125.60" y="210.00" font-size="12.50" text-anchor="middle" font-weight="bold" style="fill:#000;font-family:'Liberation Serif', serif">(a)</text>
<text x="424.70" y="208.80" font-size="12.50" text-anchor="middle" font-weight="bold" style="fill:#000;font-family:'Liberation Serif', serif">(b)</text>
<text x="125.60" y="402.90" font-size="12.50" text-anchor="middle" font-weight="bold" style="fill:#000;font-family:'Liberation Serif', serif">(c)</text>
<text x="424.70" y="404.20" font-size="12.50" text-anchor="middle" font-weight="bold" style="fill:#000;font-family:'Liberation Serif', serif">(d)</text>
</svg>
</body></html>
